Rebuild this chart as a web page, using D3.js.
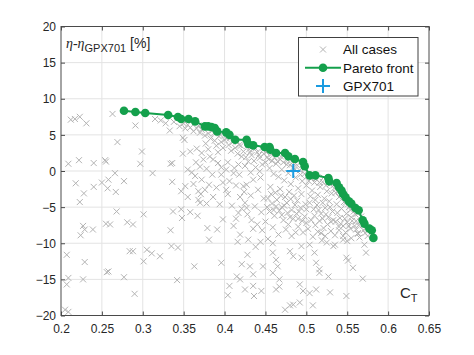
<!DOCTYPE html>
<html><head><meta charset="utf-8">
<script src="https://cdn.jsdelivr.net/npm/d3@7"></script>
<style>body{margin:0;background:#fff}svg{display:block}text{font-family:"Liberation Sans",Arial,sans-serif}</style>
</head><body>
<script>
const xTicks = [0.2,0.25,0.3,0.35,0.4,0.45,0.5,0.55,0.6,0.65];
const yTicks = [-20,-15,-10,-5,0,5,10,15,20];
const legendLabels = ["All cases","Pareto front","GPX701"];

const paretoCT = [0.277,0.291,0.303,0.331,0.343,0.347,0.356,0.364,0.376,0.380,0.384,0.388,0.391,0.402,0.406,0.413,0.427,0.429,0.435,0.449,0.455,0.456,0.463,0.474,0.478,0.486,0.496,0.498,0.504,0.511,0.527,0.528,0.537,0.540,0.543,0.545,0.548,0.552,0.555,0.560,0.564,0.569,0.571,0.577,0.580,0.582];
const paretoEta = [8.34,8.16,8.02,7.74,7.47,7.19,7.2,6.87,6.18,6.18,6.08,5.94,5.48,5.35,5.0,4.33,4.33,3.73,3.55,3.32,3.3,2.95,2.49,2.49,2.03,1.66,1.24,0.65,-0.6,-0.6,-0.97,-1.43,-1.66,-2.26,-2.72,-3.18,-3.64,-4.19,-4.52,-5.12,-5.44,-6.82,-7.28,-7.97,-8.2,-9.26];

const gpxCT = [0.484];
const gpxEta = [0];

const casesCT = [
0.217,0.223,0.212,0.231,0.263,0.269,0.291,0.209,0.222,0.240,0.254,0.255,0.299,0.297,0.312,
0.218,0.250,0.258,0.257,0.266,0.267,0.277,0.228,0.240,0.223,0.268,0.301,0.224,0.227,0.229,0.239,
0.255,0.260,0.281,0.288,0.284,0.288,0.305,0.311,0.321,0.301,0.207,0.229,0.258,0.256,0.209,0.207,
0.227,0.277,0.290,0.205,0.209,
0.334,0.336,0.336,0.334,0.335,0.343,0.342,0.363,0.337,0.347,0.348,0.358,0.367,0.351,0.349,0.358,
0.360,0.364,0.347,0.352,0.371,0.368,0.370,0.379,0.381,0.391,0.398,0.396,0.404,0.406,0.414,0.417,
0.425,0.427,0.419,0.429,0.435,0.428,0.421,0.431,0.415,0.419,0.425,0.435,0.436,0.445,0.435,0.447,
0.382,0.386,0.374,0.392,0.396,0.402,0.411,0.417,0.421,0.429,0.406,0.402,0.423,0.427,0.435,0.443,
0.453,0.459,0.459,0.463,0.465,0.459,0.467,0.463,0.467,0.474,0.480,0.484,0.492,0.508,0.480,0.484,
0.494,0.494,0.504,0.510,0.512,0.516,0.516,0.527,0.529,0.512,0.504,0.496,0.492,0.549,0.551,0.549,
0.557,0.569,0.571,0.573,0.563,0.555,0.545,0.535,0.533,0.523,0.518,
0.315,0.322,0.328,0.333,0.338,0.345,0.350,0.352,0.349,
0.358,0.362,0.366,0.370,0.372,0.376,0.380,0.383,0.385,0.388,0.390,0.393,0.396,0.398,0.377,0.372,0.366,0.380,
0.402,0.405,0.408,0.410,0.413,0.416,0.420,0.423,0.426,0.430,0.433,0.436,0.440,0.443,0.446,0.448,
0.404,0.412,0.418,0.425,0.432,0.438,0.444,0.450,
0.452,0.455,0.458,0.460,0.463,0.466,0.468,0.470,0.473,0.476,0.478,0.481,0.484,0.487,0.490,0.492,
0.495,0.498,0.500,0.456,0.462,0.468,0.474,0.479,0.485,0.489,0.494,0.499,0.453,0.458,0.464,0.470,
0.476,0.482,0.488,0.493,0.498,0.455,0.461,0.467,0.472,0.478,0.484,0.490,0.496,0.450,0.459,0.466,
0.475,0.482,0.487,
0.503,0.507,0.510,0.514,0.517,0.520,0.522,0.525,0.528,0.531,0.534,0.537,0.540,0.543,0.546,0.549,
0.552,0.555,0.558,0.561,0.564,0.567,0.570,0.573,0.575,0.504,0.509,0.513,0.518,0.523,0.527,0.532,
0.536,0.541,0.545,0.550,0.554,0.559,0.563,0.506,0.511,0.516,0.521,0.526,0.530,0.535,0.540,0.545,
0.550,0.502,0.508,0.514,0.519,0.525,
0.404,0.409,0.414,0.419,0.424,0.428,0.432,0.437,0.441,0.445,0.448,0.433,0.440,0.446,0.411,0.421,
0.416,0.438,0.444,
0.372,0.376,0.381,0.386,0.390,0.394,0.398,0.362,0.355,0.378,0.368,
0.365,0.370,0.378,0.385,0.392,0.396,0.355,
0.355,0.368,0.374,0.387,0.395,0.400,0.407,0.415,0.418,0.428,0.431,0.438,0.442,0.447,0.451,0.454,
0.457,0.461,0.465,0.469,0.472,0.477,0.480,0.483,0.486,0.489,0.493,0.497,0.501,0.506,0.512,0.516,
0.521,0.524,0.529,0.533,0.536,0.539,0.542,0.545,0.548,0.551,0.554,0.557,0.560,0.563,0.566,0.569,0.572,
0.457,0.463,0.469,0.473,0.477,0.481,0.486,0.491,0.495,0.500,0.505,0.511,0.515,0.520,0.524,0.529,
0.533,0.538,0.542,0.547,0.552,0.556,0.561,0.565,0.452,0.460,0.470,0.480,0.490,0.500,0.510,0.520,
0.530,0.540,0.548
];
const casesEta = [
7.2,7.5,7.1,6.6,7.9,4.0,6.3,1.0,1.5,1.1,1.5,1.3,2.7,1.0,-0.3,
-1.7,-1.6,-1.2,-2.4,-0.3,-2.9,-1.4,-3.1,-2.2,-4.3,-5.6,-6.0,-8.9,-7.6,-8.1,-8.1,
-7.3,-7.4,-7.1,-7.4,-11.1,-11.1,-10.9,-11.4,-11.8,-12.5,-11.6,-12.6,-13.9,-14.0,-14.8,-15.7,
-15.0,-14.7,-17.0,-19.2,-19.5,
1.0,1.1,-1.5,-8.2,-10.4,-10.6,-15.1,-13.2,-5.6,-5.3,-6.5,-5.7,-6.2,4.3,2.4,2.7,
-0.2,-0.7,-2.8,-2.1,-3.2,-4.0,-4.4,-7.9,-9.5,-8.1,-6.7,-12.7,-17.2,-15.9,-6.6,-5.8,
-4.4,-5.1,-8.8,-9.5,-8.0,-11.6,-12.9,-13.2,-14.6,-15.0,-16.4,-15.9,-17.3,-16.6,-14.3,-13.2,
2.0,1.6,1.6,1.1,-0.5,0.2,-0.3,0.9,2.0,1.3,-1.4,-2.6,-2.1,-1.9,-1.2,-0.05,
-9.4,-10.0,-11.3,-12.3,-13.2,-14.1,-15.0,-16.4,-16.0,-19.2,-18.6,-18.5,-18.2,-18.6,-11.1,-11.8,
-12.0,-10.4,-10.2,-11.3,-12.7,-13.6,-14.1,-14.6,-16.8,-16.4,-16.9,-16.6,-15.7,-12.0,-12.4,-17.3,
-13.4,-14.9,-10.2,-11.3,-8.6,-9.3,-9.5,-10.2,-10.4,-9.0,-8.6,
7.2,7.0,6.6,5.6,6.8,6.2,6.6,5.9,4.6,
6.0,5.5,5.9,5.3,5.7,4.9,5.2,4.5,5.6,4.2,3.5,4.8,4.0,3.2,3.8,2.5,3.1,3.0,
4.5,3.6,2.8,4.0,3.2,2.4,3.5,2.7,1.9,3.0,2.2,1.4,2.6,1.8,0.9,2.4,
1.2,0.4,-0.5,0.7,-0.2,0.5,-0.9,1.2,
1.9,0.4,1.4,-0.4,1.0,-0.8,1.6,0.2,-1.3,0.9,-0.3,-1.8,0.5,-0.9,-2.4,0.1,
-1.4,-0.4,-2.0,-2.2,-3.0,-2.5,-3.6,-2.9,-3.4,-4.1,-3.2,-4.6,-3.8,-4.5,-4.0,-5.0,
-4.4,-5.4,-5.9,-5.1,-6.3,-5.6,-6.2,-5.5,-6.8,-7.4,-6.6,-7.7,-8.5,-7.0,-7.8,-8.8,
-8.1,-9.0,-8.5,
-1.4,-2.7,-1.6,-3.3,-2.2,-1.5,-3.8,-2.8,-4.2,-3.1,-2.4,-4.6,-3.6,-5.2,-4.3,-5.9,
-5.0,-6.4,-5.6,-6.9,-7.5,-6.3,-8.2,-7.8,-9.0,-4.4,-5.3,-4.7,-5.9,-5.1,-6.4,-5.6,
-7.0,-6.5,-7.6,-7.1,-8.0,-7.6,-8.7,-6.8,-7.5,-6.9,-7.9,-7.4,-8.3,-8.9,-8.2,-9.0,
-9.7,-8.0,-9.1,-8.4,-9.6,-9.9,
-3.2,-4.8,-2.0,-3.6,-2.9,-6.0,-3.4,-4.9,-2.6,-5.7,-3.8,-6.8,-7.4,-8.2,-7.6,-5.2,
-9.8,-10.5,-9.8,
-1.2,-2.6,-1.9,-3.6,-2.3,-4.6,-1.6,-1.8,-3.6,-4.5,-2.8,
1.2,0.6,0.3,-0.5,2.6,0.5,0.2,
6.4,6.3,5.9,5.2,5.0,4.3,4.6,4.1,3.6,3.5,2.6,3.1,2.2,2.9,2.6,1.6,
2.3,1.9,1.3,2.0,1.2,1.5,0.8,1.2,0.2,0.8,-0.5,0.3,-0.7,-1.0,-1.1,-1.6,
-0.9,-2.0,-1.8,-2.0,-3.0,-2.7,-3.4,-3.7,-4.4,-4.6,-5.4,-4.9,-6.0,-5.9,-7.0,-7.5,-8.6,
-3.2,-4.9,-3.4,-4.8,-5.8,-3.9,-4.7,-5.6,-6.9,-5.3,-3.5,-4.0,-5.4,-4.4,-6.0,-5.0,
-6.8,-5.8,-7.3,-6.6,-7.6,-6.9,-8.1,-9.2,-5.0,-5.4,-6.1,-6.4,-6.6,-7.2,-6.2,-6.6,
-7.0,-7.7,-8.5
];

const W = 474, H = 355;
const L = 61, R = 429, T = 26.5, B = 315.5;
const x = d3.scaleLinear().domain([0.2,0.65]).range([L,R]);
const y = d3.scaleLinear().domain([-20,20]).range([B,T]);

const svg = d3.select("body").append("svg").attr("width",W).attr("height",H);

// grid
const g = svg.append("g");
g.selectAll(".gx").data(xTicks.slice(1,-1)).enter().append("line")
  .attr("x1",d=>x(d)).attr("x2",d=>x(d)).attr("y1",T).attr("y2",B)
  .attr("stroke","#e3e3e3").attr("stroke-width",1);
g.selectAll(".gy").data(yTicks.slice(1,-1)).enter().append("line")
  .attr("y1",d=>y(d)).attr("y2",d=>y(d)).attr("x1",L).attr("x2",R)
  .attr("stroke","#e3e3e3").attr("stroke-width",1);

// all cases
const cases = casesCT.map((c,i)=>({c, e:casesEta[i]}));
const s = 3;
const cg = svg.append("g").attr("stroke","#b3b3b3").attr("stroke-width",1).attr("fill","none");
cg.selectAll("path").data(cases).enter().append("path")
  .attr("d",d=>{const px=x(d.c), py=y(d.e);
    return `M${px-s},${py-s}L${px+s},${py+s}M${px-s},${py+s}L${px+s},${py-s}`;});

// pareto
const pareto = paretoCT.map((c,i)=>({c, e:paretoEta[i]}));
const green = "#14a04c";
svg.append("path").datum(pareto)
  .attr("d", d3.line().x(d=>x(d.c)).y(d=>y(d.e)))
  .attr("fill","none").attr("stroke",green).attr("stroke-width",2);
svg.selectAll(".pm").data(pareto).enter().append("circle")
  .attr("cx",d=>x(d.c)).attr("cy",d=>y(d.e)).attr("r",4.3).attr("fill",green);

// GPX701
const blue = "#1a9be0";
const gp = gpxCT.map((c,i)=>({c,e:gpxEta[i]}));
svg.selectAll(".gp").data(gp).enter().append("path")
  .attr("d",d=>{const px=x(d.c), py=y(d.e), k=7;
    return `M${px-k},${py}L${px+k},${py}M${px},${py-k}L${px},${py+k}`;})
  .attr("stroke",blue).attr("stroke-width",2).attr("fill","none");

// axes box
const axCol = "#4a4a4a";
svg.append("rect").attr("x",L).attr("y",T).attr("width",R-L).attr("height",B-T)
  .attr("fill","none").attr("stroke",axCol).attr("stroke-width",1);

const tl = 4;
const xb = d3.axisBottom(x).tickValues(xTicks).tickSize(-tl).tickFormat(d3.format("~g"));
const xa = svg.append("g").attr("transform",`translate(0,${B})`).call(xb);
const xt = svg.append("g").attr("transform",`translate(0,${T})`).call(d3.axisTop(x).tickValues(xTicks).tickSize(-tl).tickFormat(""));
const ya = svg.append("g").attr("transform",`translate(${L},0)`).call(d3.axisLeft(y).tickValues(yTicks).tickSize(-tl));
const yr = svg.append("g").attr("transform",`translate(${R},0)`).call(d3.axisRight(y).tickValues(yTicks).tickSize(-tl).tickFormat(""));
[xa,xt,ya,yr].forEach(a=>{
  a.select(".domain").remove();
  a.selectAll("line").attr("stroke",axCol);
  a.selectAll("text").attr("fill","#262626").style("font-size","12px").style("font-family","'Liberation Sans',Arial,sans-serif");
});
xa.selectAll("text").attr("dy",0).attr("y",17.5);
ya.selectAll("text").attr("x",-5).attr("dy","0.35em");

// y label
const yl = svg.append("text").attr("x",66).attr("y",48).attr("fill","#262626").style("font-size","14px");
yl.append("tspan").text("η-η").style("font-style","italic").style("font-family","'Liberation Serif','Times New Roman',serif");
yl.append("tspan").text("GPX701").attr("dy",4).style("font-size","11px");
yl.append("tspan").text(" [%]").attr("dy",-4);

// x label
const xl = svg.append("text").attr("x",400).attr("y",298).attr("fill","#262626").style("font-size","15px");
xl.append("tspan").text("C");
xl.append("tspan").text("T").attr("dy",4).style("font-size","11px");

// legend
const lg = svg.append("g");
lg.append("rect").attr("x",298.5).attr("y",37.5).attr("width",119.5).attr("height",58.5)
  .attr("fill","#fff").attr("stroke","#404040").attr("stroke-width",1);
const ly = [49.5,67.7,86];
const mx = 323;
lg.append("path").attr("d",`M${mx-3},${ly[0]-3}L${mx+3},${ly[0]+3}M${mx-3},${ly[0]+3}L${mx+3},${ly[0]-3}`)
  .attr("stroke","#b3b3b3").attr("fill","none");
lg.append("line").attr("x1",305).attr("x2",341).attr("y1",ly[1]).attr("y2",ly[1]).attr("stroke",green).attr("stroke-width",2);
lg.append("circle").attr("cx",mx).attr("cy",ly[1]).attr("r",4.3).attr("fill",green);
lg.append("path").attr("d",`M${mx-7},${ly[2]}L${mx+7},${ly[2]}M${mx},${ly[2]-7}L${mx},${ly[2]+7}`)
  .attr("stroke",blue).attr("stroke-width",2);
lg.selectAll(".lt").data(legendLabels).enter().append("text")
  .attr("x",343).attr("y",(d,i)=>ly[i]).attr("dy","0.36em")
  .attr("fill","#111").style("font-size","13.5px").text(d=>d);
</script>
</body></html>
